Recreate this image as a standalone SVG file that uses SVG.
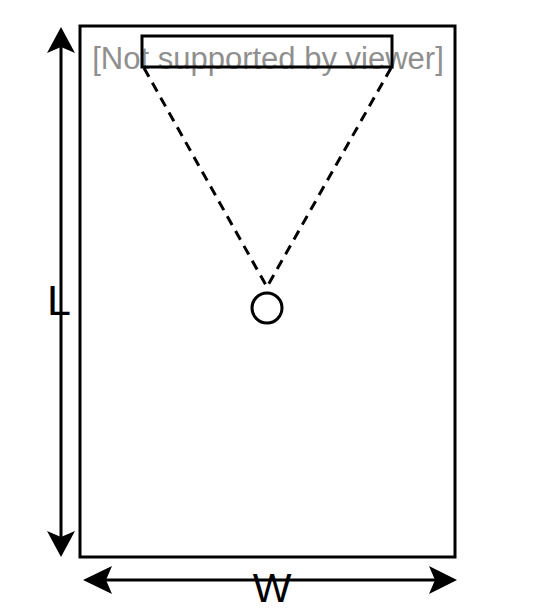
<svg xmlns="http://www.w3.org/2000/svg" width="534" height="609" viewBox="0 0 534 609">
  <style>
    .box { fill: #ffffff; stroke: #000000; stroke-width: 3; }
    .line { fill: none; stroke: #000000; stroke-width: 3; }
    .dash { fill: none; stroke: #000000; stroke-width: 3; stroke-dasharray: 10 7; }
    .head { fill: #000000; stroke: none; }
    .lbl { font-family: "Liberation Sans", Arial, sans-serif; fill: #000000; }
    .gray { font-family: "Liberation Sans", Arial, sans-serif; fill: #8f8f8f; font-size: 31px; }
  </style>
  <rect width="534" height="609" fill="#ffffff"/>
  <g id="room">
    <rect class="box" x="80" y="26" width="375" height="531"/>
  </g>
  <g id="sensor">
    <text class="gray" x="268" y="69" text-anchor="middle">[Not supported by viewer]</text>
    <rect class="line" x="142" y="36" width="250" height="31"/>
  </g>
  <g id="target">
    <circle class="line" cx="267" cy="308" r="15"/>
  </g>
  <g id="label-L">
    <text class="lbl" x="47" y="315" font-size="43">L</text>
  </g>
  <g id="connectors">
    <path class="dash" d="M144 68 L267 287"/>
    <path class="dash" d="M391 68 L267 287"/>
    <path class="line" d="M61 45 L61 539"/>
    <polygon class="head" points="61,27 75,53 61,47 47,53"/>
    <polygon class="head" points="61,557 75,531 61,537 47,531"/>
    <path class="line" d="M100 580 L440 580"/>
    <polygon class="head" points="83,580 112,566 106,580 112,594"/>
    <polygon class="head" points="457,580 429,566 435,580 429,594"/>
  </g>
  <g id="label-W">
    <text class="lbl" x="272" y="602" font-size="41" text-anchor="middle">W</text>
  </g>
</svg>
